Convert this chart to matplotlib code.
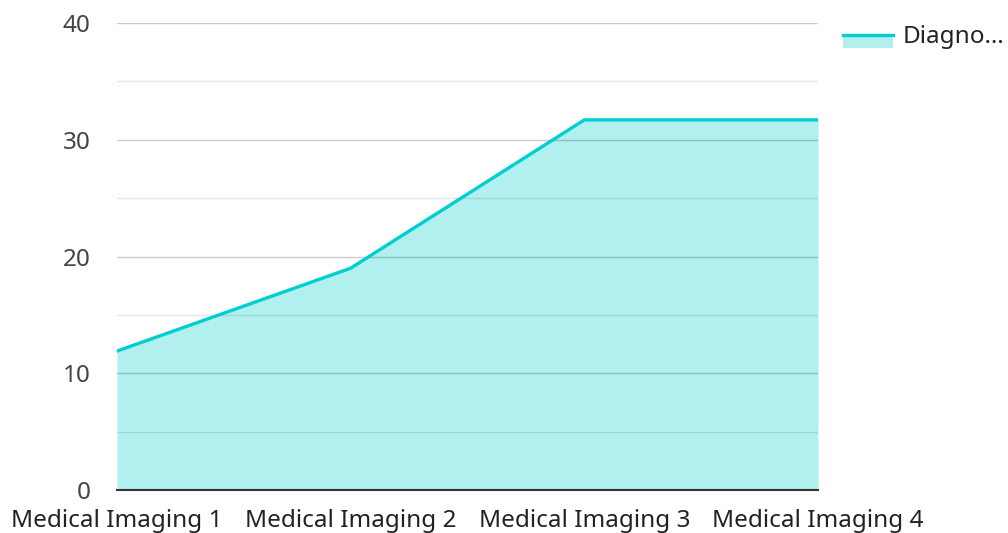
import matplotlib.pyplot as plt
from matplotlib.lines import Line2D
from matplotlib.patches import Rectangle
from matplotlib.ticker import MultipleLocator

# 数据
categories = ['Medical Imaging 1', 'Medical Imaging 2', 'Medical Imaging 3', 'Medical Imaging 4']
values = [11.9, 19.0, 31.7, 31.7]
series_label = 'Diagno…'

line_color = '#00ced1'
fill_color = '#b2f0ef'
text_color = '#444444'
font_size = 17.5

plt.rcParams['font.family'] = ['Noto Sans', 'DejaVu Sans']

fig = plt.figure(figsize=(10.08, 5.33), dpi=100)
W, H = 1008, 533
ax = fig.add_axes([117 / W, (533 - 490) / H, (818 - 117) / W, (490 - 23) / H])

x = list(range(len(categories)))
ax.fill_between(x, values, 0, color=fill_color, linewidth=0)
ax.plot(x, values, color=line_color, linewidth=2.4, solid_joinstyle='round', zorder=3)

ax.set_xlim(0, len(categories) - 1)
ax.set_ylim(0, 40)
ax.set_xticks(x)
ax.set_xticklabels(categories)
ax.yaxis.set_major_locator(MultipleLocator(10))
ax.yaxis.set_minor_locator(MultipleLocator(5))

# 网格线
ax.grid(True, which='major', axis='y', color='black', alpha=0.2, linewidth=1)
ax.grid(True, which='minor', axis='y', color='black', alpha=0.1, linewidth=1)

for s in ['top', 'right', 'left']:
    ax.spines[s].set_visible(False)
ax.spines['bottom'].set_color('#333333')
ax.spines['bottom'].set_linewidth(1.5)
ax.spines['bottom'].set_zorder(4)

ax.tick_params(axis='y', which='both', length=0, pad=19, labelsize=font_size, labelcolor=text_color)
ax.tick_params(axis='x', length=0, pad=14, labelsize=font_size, labelcolor='#222222')

# 图例
fig.add_artist(Rectangle((843 / W, (533 - 48) / H), 50 / W, 12 / H, color=fill_color,
                         transform=fig.transFigure, linewidth=0))
fig.add_artist(Line2D([843 / W, 893 / W], [(533 - 35) / H] * 2, color=line_color,
                      linewidth=2.4, transform=fig.transFigure))
fig.text(903 / W, (533 - 37) / H, series_label, fontsize=font_size, color='#222222', va='center', ha='left')

plt.savefig('out.png', dpi=100)
